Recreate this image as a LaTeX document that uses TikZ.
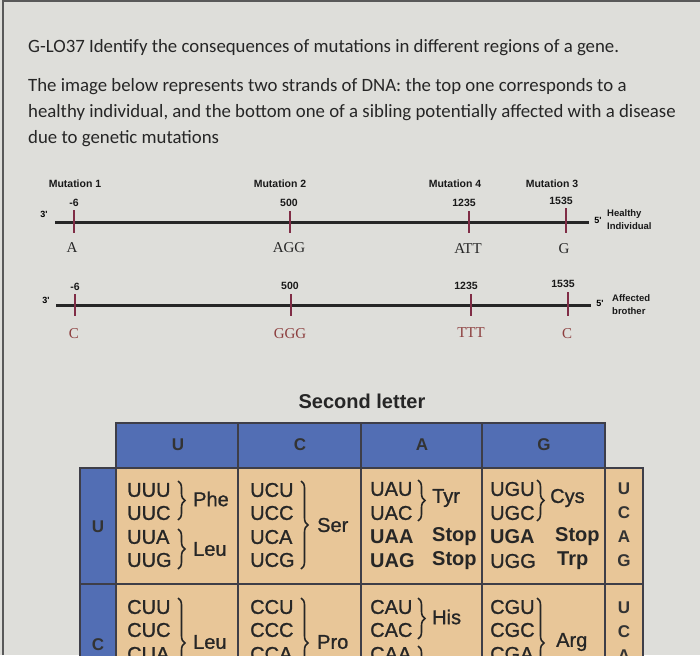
\documentclass[tikz,border=0pt]{standalone}
\usepackage{fontspec}
\setmainfont{Carlito}
\newfontfamily\arialfont{Liberation Sans}
\newfontfamily\arialmed[FakeBold=1]{Liberation Sans}
\newfontfamily\timesfont{Liberation Serif}
\usepackage{tikz}
\usetikzlibrary{decorations.pathreplacing}

\definecolor{paper}{RGB}{222,222,218}
\definecolor{tickred}{RGB}{128,45,70}
\definecolor{mutred}{RGB}{140,62,62}
\definecolor{headblue}{RGB}{82,110,180}
\definecolor{celltan}{RGB}{232,198,152}
\definecolor{gridgray}{RGB}{62,62,72}

\tikzset{
  intro/.style={anchor=base west, inner sep=0pt, font=\fontsize{18.8}{22}\selectfont, text=black!85},
  mutlabel/.style={inner sep=0pt, font=\arialfont\bfseries\fontsize{10.5}{11}\selectfont, text=black!90},
  endlabel/.style={inner sep=0pt, font=\arialfont\bfseries\fontsize{9}{10}\selectfont},
  sidelabel/.style={anchor=west, inner sep=0pt, align=left, font=\arialfont\bfseries\fontsize{9.5}{13}\selectfont, text=black!90},
  nucl/.style={inner sep=0pt, font=\timesfont\fontsize{15}{16}\selectfont, text=black!85},
  mutnucl/.style={nucl, text=mutred},
  strand/.style={line width=3pt, black!85},
  snp/.style={line width=2.5pt, tickred},
  headbox/.style={fill=headblue, draw=gridgray, line width=1.5pt},
  cellbox/.style={fill=celltan, draw=gridgray, line width=1.5pt},
  codon/.style={anchor=west, inner sep=0pt, font=\arialmed\fontsize{20}{22}\selectfont, text=black!85},
  codonbf/.style={codon, font=\arialfont\bfseries\fontsize{20}{22}\selectfont},
  letter/.style={inner sep=0pt, font=\arialfont\bfseries\fontsize{17}{18}\selectfont, text=black!80},
  aabrace/.style={decorate, decoration={brace, amplitude=7pt}, line width=1.6pt, black!85},
}

\begin{document}
\begin{tikzpicture}[x=1pt, y=-1pt]
        \useasboundingbox (0,0) rectangle (700,655);
        \clip (0,0) rectangle (700,655);
        \fill[paper] (0,0) rectangle (700,655);
        \draw[black!65, line width=2pt] (3,655) -- (3,1) -- (700,1);

        % question text
        \node[intro] at (28,53) (q1){G-LO37 Identify the consequences of mutations in different regions of a gene.};
        \node[intro] at (28,92) (q2){The image below represents two strands of DNA: the top one corresponds to a};
        \node[intro] at (28,118) (q3){healthy individual, and the bottom one of a sibling potentially affected with a disease};
        \node[intro] at (28,144) (q4){due to genetic mutations};

        % the two strands
        \node[mutlabel] at (75,184) (m1){Mutation 1};
        \node[mutlabel] at (280,184) (m2){Mutation 2};
        \node[mutlabel] at (455,184) (m4){Mutation 4};
        \node[mutlabel] at (552,184) (m3){Mutation 3};

        \node[endlabel] at (44,214) (h3){3'};
        \node[endlabel] at (598,220) (h5){5'};
        \node[sidelabel] at (607,220) (healthy){Healthy\\Individual};
        \coordinate (hl) at (55,222);
        \coordinate (hr) at (589,222);
        \draw[strand] (hl) -- (hr);

        \node[endlabel] at (46,300) (a3){3'};
        \node[endlabel] at (600,303) (a5){5'};
        \node[sidelabel] at (612,305) (affected){Affected\\brother};
        \coordinate (al) at (56,305);
        \coordinate (ar) at (591,305);
        \draw[strand] (al) -- (ar);

        \coordinate (h1a) at (74,210); \coordinate (h1b) at (74,233);
        \coordinate (h2a) at (290,211); \coordinate (h2b) at (290,233);
        \coordinate (h4a) at (469,211); \coordinate (h4b) at (469,233);
        \coordinate (h6a) at (566,208); \coordinate (h6b) at (566,233);
        \coordinate (a1a) at (75,294); \coordinate (a1b) at (75,316);
        \coordinate (a2a) at (291,294); \coordinate (a2b) at (291,316);
        \coordinate (a4a) at (471,294); \coordinate (a4b) at (471,316);
        \coordinate (a6a) at (568,292); \coordinate (a6b) at (568,316);
        \draw[snp] (h1a) -- (h1b);
        \draw[snp] (h2a) -- (h2b);
        \draw[snp] (h4a) -- (h4b);
        \draw[snp] (h6a) -- (h6b);
        \draw[snp] (a1a) -- (a1b);
        \draw[snp] (a2a) -- (a2b);
        \draw[snp] (a4a) -- (a4b);
        \draw[snp] (a6a) -- (a6b);

        \node[mutlabel] at (74,203) (hp1){-6};
        \node[mutlabel] at (289,203) (hp2){500};
        \node[mutlabel] at (464,203) (hp4){1235};
        \node[mutlabel] at (561,201) (hp3){1535};
        \node[mutlabel] at (75,287) (ap1){-6};
        \node[mutlabel] at (290,286) (ap2){500};
        \node[mutlabel] at (466,286) (ap4){1235};
        \node[mutlabel] at (563,284) (ap3){1535};

        \node[nucl] at (72,248) (hn1){A};
        \node[nucl] at (289,248) (hn2){AGG};
        \node[nucl] at (468,249) (hn4){ATT};
        \node[nucl] at (564,249) (hn3){G};
        \node[mutnucl] at (74,334) (an1){C};
        \node[mutnucl] at (290,334) (an2){GGG};
        \node[mutnucl] at (471,333) (an4){TTT};
        \node[mutnucl] at (567,334) (an3){C};

        % codon table
        \node[inner sep=0pt, font=\arialfont\bfseries\fontsize{20}{22}\selectfont, text=black!85] at (362,401) (second){Second letter};

        \draw[headbox] (116,423) rectangle (238,468);
        \draw[headbox] (238,423) rectangle (361,468);
        \draw[headbox] (361,423) rectangle (482,468);
        \draw[headbox] (482,423) rectangle (605,468);
        \draw[headbox] (80,468) rectangle (116,584);
        \draw[headbox] (80,584) rectangle (116,700);
        \foreach \xa/\xb in {116/238, 238/361, 361/482, 482/605, 605/643}
          \draw[cellbox] (\xa,468) rectangle (\xb,584) (\xa,584) rectangle (\xb,700);

        \node[letter] at (178,445) (su){U};
        \node[letter] at (300,445) (sc){C};
        \node[letter] at (422,445) (sa){A};
        \node[letter] at (544,445) (sg){G};
        \node[letter] at (98,527) (fu){U};
        \node[letter] at (98,645) (fc){C};
        \node[letter] at (624,489) (tu1){U};
        \node[letter] at (624,513) (tc1){C};
        \node[letter] at (624,537) (ta1){A};
        \node[letter] at (624,561) (tg1){G};
        \node[letter] at (624,608) (tu2){U};
        \node[letter] at (624,632) (tc2){C};
        \node[letter] at (624,656) (ta2){A};

        % first row
        \node[codon] at (127,490) (uuu){UUU};
        \node[codon] at (127,513) (uuc){UUC};
        \node[codon] at (127,537) (uua){UUA};
        \node[codon] at (127,560) (uug){UUG};
        \node[codon] at (250,490) (ucu){UCU};
        \node[codon] at (250,513) (ucc){UCC};
        \node[codon] at (250,537) (uca){UCA};
        \node[codon] at (250,560) (ucg){UCG};
        \node[codon] at (370,489) (uau){UAU};
        \node[codon] at (370,513) (uac){UAC};
        \node[codonbf] at (370,537) (uaa){UAA};
        \node[codonbf] at (370,561) (uag){UAG};
        \node[codon] at (490,489) (ugu){UGU};
        \node[codon] at (490,513) (ugc){UGC};
        \node[codonbf] at (490,537) (uga){UGA};
        \node[codon] at (490,561) (ugg){UGG};

        \coordinate (phe1) at (178,481); \coordinate (phe2) at (178,520);
        \coordinate (leu1) at (178,529); \coordinate (leu2) at (178,569);
        \coordinate (ser1) at (301,481); \coordinate (ser2) at (301,569);
        \coordinate (tyr1) at (418,480); \coordinate (tyr2) at (418,521);
        \coordinate (cys1) at (537,480); \coordinate (cys2) at (537,521);
        \draw[aabrace] (phe1) -- (phe2);
        \draw[aabrace] (leu1) -- (leu2);
        \draw[aabrace] (ser1) -- (ser2);
        \draw[aabrace] (tyr1) -- (tyr2);
        \draw[aabrace] (cys1) -- (cys2);

        \node[codon] at (193,499) (phe){Phe};
        \node[codon] at (193,549) (leu){Leu};
        \node[codon] at (317,525) (ser){Ser};
        \node[codon] at (432,498) (tyr){Tyr};
        \node[codon] at (550,498) (cys){Cys};
        \node[codonbf] at (432,537) (stop1){Stop};
        \node[codonbf] at (432,561) (stop2){Stop};
        \node[codonbf] at (555,537) (stop3){Stop};
        \node[codonbf] at (557,561) (trp){Trp};

        % second row
        \node[codon] at (127,607) (cuu){CUU};
        \node[codon] at (127,630) (cuc){CUC};
        \node[codon] at (127,654) (cua){CUA};
        \node[codon] at (250,607) (ccu){CCU};
        \node[codon] at (250,630) (ccc){CCC};
        \node[codon] at (250,654) (cca){CCA};
        \node[codon] at (370,607) (cau){CAU};
        \node[codon] at (370,630) (cac){CAC};
        \node[codon] at (370,654) (caa){CAA};
        \node[codon] at (490,607) (cgu){CGU};
        \node[codon] at (490,630) (cgc){CGC};
        \node[codon] at (490,654) (cga){CGA};

        \coordinate (leuc1) at (178,598); \coordinate (leuc2) at (178,688);
        \coordinate (pro1) at (301,598); \coordinate (pro2) at (301,688);
        \coordinate (his1) at (418,598); \coordinate (his2) at (418,639);
        \coordinate (gln1) at (418,646); \coordinate (gln2) at (418,687);
        \coordinate (arg1) at (537,598); \coordinate (arg2) at (537,688);
        \draw[aabrace] (leuc1) -- (leuc2);
        \draw[aabrace] (pro1) -- (pro2);
        \draw[aabrace] (his1) -- (his2);
        \draw[aabrace] (gln1) -- (gln2);
        \draw[aabrace] (arg1) -- (arg2);

        \node[codon] at (193,642) (leuc){Leu};
        \node[codon] at (317,642) (pro){Pro};
        \node[codon] at (432,617) (his){His};
        \node[codon] at (556,642) (arg){Arg};
\end{tikzpicture}
\end{document}
